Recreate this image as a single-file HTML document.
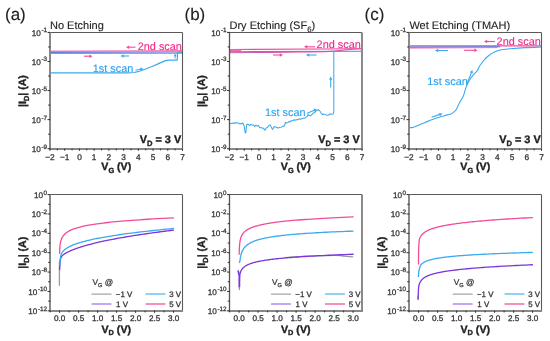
<!DOCTYPE html>
<html><head><meta charset="utf-8"><style>
html,body{margin:0;padding:0;background:#fff;width:550px;height:341px;overflow:hidden}
svg{display:block;font-family:"Liberation Sans", sans-serif;will-change:transform;text-rendering:geometricPrecision;filter:blur(0.3px)}
</style></head><body>
<svg xmlns="http://www.w3.org/2000/svg" width="550" height="341" viewBox="0 0 550 341">
<defs><clipPath id="ct0"><rect x="50" y="32.4" width="132.5" height="116.3"/></clipPath><clipPath id="cb0"><rect x="50" y="194.6" width="132.5" height="116.2"/></clipPath><clipPath id="ct1"><rect x="229.5" y="32.4" width="132.5" height="116.3"/></clipPath><clipPath id="cb1"><rect x="229.5" y="194.6" width="132.5" height="116.2"/></clipPath><clipPath id="ct2"><rect x="409" y="32.4" width="132.5" height="116.3"/></clipPath><clipPath id="cb2"><rect x="409" y="194.6" width="132.5" height="116.2"/></clipPath></defs>
<rect width="550" height="341" fill="#fff"/>
<text x="5" y="20.3" font-size="17" fill="#222" text-anchor="start" font-weight="normal" stroke="#222" stroke-width="0.12" >(a)</text>
<text x="184.5" y="20.3" font-size="17" fill="#222" text-anchor="start" font-weight="normal" stroke="#222" stroke-width="0.12" >(b)</text>
<text x="364.5" y="20.3" font-size="17" fill="#222" text-anchor="start" font-weight="normal" stroke="#222" stroke-width="0.12" >(c)</text>
<text x="47" y="35.5" font-size="8.2" fill="#333" text-anchor="end" font-weight="normal" stroke="#333" stroke-width="0.26" >10<tspan font-size="6.3" dx="0.6" dy="-3.1">-1</tspan></text>
<text x="47" y="64.57" font-size="8.2" fill="#333" text-anchor="end" font-weight="normal" stroke="#333" stroke-width="0.26" >10<tspan font-size="6.3" dx="0.6" dy="-3.1">-3</tspan></text>
<text x="47" y="93.65" font-size="8.2" fill="#333" text-anchor="end" font-weight="normal" stroke="#333" stroke-width="0.26" >10<tspan font-size="6.3" dx="0.6" dy="-3.1">-5</tspan></text>
<text x="47" y="122.72" font-size="8.2" fill="#333" text-anchor="end" font-weight="normal" stroke="#333" stroke-width="0.26" >10<tspan font-size="6.3" dx="0.6" dy="-3.1">-7</tspan></text>
<text x="47" y="151.8" font-size="8.2" fill="#333" text-anchor="end" font-weight="normal" stroke="#333" stroke-width="0.26" >10<tspan font-size="6.3" dx="0.6" dy="-3.1">-9</tspan></text>
<text x="50" y="160.2" font-size="8.3" fill="#333" text-anchor="middle" font-weight="normal" stroke="#333" stroke-width="0.28" >&#8722;2</text>
<text x="64.72" y="160.2" font-size="8.3" fill="#333" text-anchor="middle" font-weight="normal" stroke="#333" stroke-width="0.28" >&#8722;1</text>
<text x="79.44" y="160.2" font-size="8.3" fill="#333" text-anchor="middle" font-weight="normal" stroke="#333" stroke-width="0.28" >0</text>
<text x="94.17" y="160.2" font-size="8.3" fill="#333" text-anchor="middle" font-weight="normal" stroke="#333" stroke-width="0.28" >1</text>
<text x="108.89" y="160.2" font-size="8.3" fill="#333" text-anchor="middle" font-weight="normal" stroke="#333" stroke-width="0.28" >2</text>
<text x="123.61" y="160.2" font-size="8.3" fill="#333" text-anchor="middle" font-weight="normal" stroke="#333" stroke-width="0.28" >3</text>
<text x="138.33" y="160.2" font-size="8.3" fill="#333" text-anchor="middle" font-weight="normal" stroke="#333" stroke-width="0.28" >4</text>
<text x="153.06" y="160.2" font-size="8.3" fill="#333" text-anchor="middle" font-weight="normal" stroke="#333" stroke-width="0.28" >5</text>
<text x="167.78" y="160.2" font-size="8.3" fill="#333" text-anchor="middle" font-weight="normal" stroke="#333" stroke-width="0.28" >6</text>
<text x="182.5" y="160.2" font-size="8.3" fill="#333" text-anchor="middle" font-weight="normal" stroke="#333" stroke-width="0.28" >7</text>
<text x="116.25" y="170.2" font-size="10.6" fill="#222" text-anchor="middle" font-weight="bold" stroke="#222" stroke-width="0.35" >V<tspan font-size="7.4" dy="2.8">G</tspan><tspan dy="-2.8"> (V)</tspan></text>
<text transform="translate(25.8,91.05) rotate(-90)" font-size="10.6" fill="#222" text-anchor="middle" font-weight="bold" stroke="#222" stroke-width="0.35">|I<tspan font-size="7.4" dy="2.8">D</tspan><tspan dy="-2.8">| (A)</tspan></text>
<text x="181.2" y="143.3" font-size="10.9" fill="#222" text-anchor="end" font-weight="bold" stroke="#222" stroke-width="0.35" >V<tspan font-size="7.6" dy="2.9">D</tspan><tspan dy="-2.9"> = 3 V</tspan></text>
<text x="226.5" y="35.5" font-size="8.2" fill="#333" text-anchor="end" font-weight="normal" stroke="#333" stroke-width="0.26" >10<tspan font-size="6.3" dx="0.6" dy="-3.1">-1</tspan></text>
<text x="226.5" y="64.57" font-size="8.2" fill="#333" text-anchor="end" font-weight="normal" stroke="#333" stroke-width="0.26" >10<tspan font-size="6.3" dx="0.6" dy="-3.1">-3</tspan></text>
<text x="226.5" y="93.65" font-size="8.2" fill="#333" text-anchor="end" font-weight="normal" stroke="#333" stroke-width="0.26" >10<tspan font-size="6.3" dx="0.6" dy="-3.1">-5</tspan></text>
<text x="226.5" y="122.72" font-size="8.2" fill="#333" text-anchor="end" font-weight="normal" stroke="#333" stroke-width="0.26" >10<tspan font-size="6.3" dx="0.6" dy="-3.1">-7</tspan></text>
<text x="226.5" y="151.8" font-size="8.2" fill="#333" text-anchor="end" font-weight="normal" stroke="#333" stroke-width="0.26" >10<tspan font-size="6.3" dx="0.6" dy="-3.1">-9</tspan></text>
<text x="229.5" y="160.2" font-size="8.3" fill="#333" text-anchor="middle" font-weight="normal" stroke="#333" stroke-width="0.28" >&#8722;2</text>
<text x="244.22" y="160.2" font-size="8.3" fill="#333" text-anchor="middle" font-weight="normal" stroke="#333" stroke-width="0.28" >&#8722;1</text>
<text x="258.94" y="160.2" font-size="8.3" fill="#333" text-anchor="middle" font-weight="normal" stroke="#333" stroke-width="0.28" >0</text>
<text x="273.67" y="160.2" font-size="8.3" fill="#333" text-anchor="middle" font-weight="normal" stroke="#333" stroke-width="0.28" >1</text>
<text x="288.39" y="160.2" font-size="8.3" fill="#333" text-anchor="middle" font-weight="normal" stroke="#333" stroke-width="0.28" >2</text>
<text x="303.11" y="160.2" font-size="8.3" fill="#333" text-anchor="middle" font-weight="normal" stroke="#333" stroke-width="0.28" >3</text>
<text x="317.83" y="160.2" font-size="8.3" fill="#333" text-anchor="middle" font-weight="normal" stroke="#333" stroke-width="0.28" >4</text>
<text x="332.56" y="160.2" font-size="8.3" fill="#333" text-anchor="middle" font-weight="normal" stroke="#333" stroke-width="0.28" >5</text>
<text x="347.28" y="160.2" font-size="8.3" fill="#333" text-anchor="middle" font-weight="normal" stroke="#333" stroke-width="0.28" >6</text>
<text x="362" y="160.2" font-size="8.3" fill="#333" text-anchor="middle" font-weight="normal" stroke="#333" stroke-width="0.28" >7</text>
<text x="295.75" y="170.2" font-size="10.6" fill="#222" text-anchor="middle" font-weight="bold" stroke="#222" stroke-width="0.35" >V<tspan font-size="7.4" dy="2.8">G</tspan><tspan dy="-2.8"> (V)</tspan></text>
<text transform="translate(205.3,91.05) rotate(-90)" font-size="10.6" fill="#222" text-anchor="middle" font-weight="bold" stroke="#222" stroke-width="0.35">|I<tspan font-size="7.4" dy="2.8">D</tspan><tspan dy="-2.8">| (A)</tspan></text>
<text x="359.7" y="143.3" font-size="10.9" fill="#222" text-anchor="end" font-weight="bold" stroke="#222" stroke-width="0.35" >V<tspan font-size="7.6" dy="2.9">D</tspan><tspan dy="-2.9"> = 3 V</tspan></text>
<text x="406" y="35.5" font-size="8.2" fill="#333" text-anchor="end" font-weight="normal" stroke="#333" stroke-width="0.26" >10<tspan font-size="6.3" dx="0.6" dy="-3.1">-1</tspan></text>
<text x="406" y="64.57" font-size="8.2" fill="#333" text-anchor="end" font-weight="normal" stroke="#333" stroke-width="0.26" >10<tspan font-size="6.3" dx="0.6" dy="-3.1">-3</tspan></text>
<text x="406" y="93.65" font-size="8.2" fill="#333" text-anchor="end" font-weight="normal" stroke="#333" stroke-width="0.26" >10<tspan font-size="6.3" dx="0.6" dy="-3.1">-5</tspan></text>
<text x="406" y="122.72" font-size="8.2" fill="#333" text-anchor="end" font-weight="normal" stroke="#333" stroke-width="0.26" >10<tspan font-size="6.3" dx="0.6" dy="-3.1">-7</tspan></text>
<text x="406" y="151.8" font-size="8.2" fill="#333" text-anchor="end" font-weight="normal" stroke="#333" stroke-width="0.26" >10<tspan font-size="6.3" dx="0.6" dy="-3.1">-9</tspan></text>
<text x="409" y="160.2" font-size="8.3" fill="#333" text-anchor="middle" font-weight="normal" stroke="#333" stroke-width="0.28" >&#8722;2</text>
<text x="423.72" y="160.2" font-size="8.3" fill="#333" text-anchor="middle" font-weight="normal" stroke="#333" stroke-width="0.28" >&#8722;1</text>
<text x="438.44" y="160.2" font-size="8.3" fill="#333" text-anchor="middle" font-weight="normal" stroke="#333" stroke-width="0.28" >0</text>
<text x="453.17" y="160.2" font-size="8.3" fill="#333" text-anchor="middle" font-weight="normal" stroke="#333" stroke-width="0.28" >1</text>
<text x="467.89" y="160.2" font-size="8.3" fill="#333" text-anchor="middle" font-weight="normal" stroke="#333" stroke-width="0.28" >2</text>
<text x="482.61" y="160.2" font-size="8.3" fill="#333" text-anchor="middle" font-weight="normal" stroke="#333" stroke-width="0.28" >3</text>
<text x="497.33" y="160.2" font-size="8.3" fill="#333" text-anchor="middle" font-weight="normal" stroke="#333" stroke-width="0.28" >4</text>
<text x="512.06" y="160.2" font-size="8.3" fill="#333" text-anchor="middle" font-weight="normal" stroke="#333" stroke-width="0.28" >5</text>
<text x="526.78" y="160.2" font-size="8.3" fill="#333" text-anchor="middle" font-weight="normal" stroke="#333" stroke-width="0.28" >6</text>
<text x="541.5" y="160.2" font-size="8.3" fill="#333" text-anchor="middle" font-weight="normal" stroke="#333" stroke-width="0.28" >7</text>
<text x="475.25" y="170.2" font-size="10.6" fill="#222" text-anchor="middle" font-weight="bold" stroke="#222" stroke-width="0.35" >V<tspan font-size="7.4" dy="2.8">G</tspan><tspan dy="-2.8"> (V)</tspan></text>
<text x="540.7" y="143.3" font-size="10.9" fill="#222" text-anchor="end" font-weight="bold" stroke="#222" stroke-width="0.35" >V<tspan font-size="7.6" dy="2.9">D</tspan><tspan dy="-2.9"> = 3 V</tspan></text>
<g clip-path="url(#ct0)">
<path d="M50,51.2 L182.5,50.8" fill="none" stroke="#f24b9c" stroke-width="1.0" stroke-linejoin="round" stroke-linecap="round" />
<path d="M50,53.5 L182.5,53.3" fill="none" stroke="#f36aaa" stroke-width="1.0" stroke-linejoin="round" stroke-linecap="round" />
<path d="M50,52.4 L182.5,52" fill="none" stroke="#5a7ce0" stroke-width="1.1" stroke-linejoin="round" stroke-linecap="round" />
<path d="M50,72.8 L128,72.8 L134,72.5 L138,71.7 L145,69.3 L152,66.5 L158,63.9 L163,61.6 L166.2,60.4 L169.2,60.1 L177.3,60.1 L177.5,52.6 L178.5,52.2 L182.5,52.2" fill="none" stroke="#3aaaf0" stroke-width="1.2" stroke-linejoin="round" stroke-linecap="round" />
</g>
<text x="137.7" y="49.7" font-size="10.9" fill="#ee2a8a" text-anchor="start" font-weight="normal" stroke="#ee2a8a" stroke-width="0.12" >2nd scan</text>
<line x1="135.5" y1="47.2" x2="128.7" y2="47.2" stroke="#f24b9c" stroke-width="1.1"/>
<path d="M126,47.2 L129.2,45.5 L129.2,48.9 Z" fill="#f24b9c"/>
<line x1="84" y1="56.2" x2="89.8" y2="56.2" stroke="#f24b9c" stroke-width="1.1"/>
<path d="M92.5,56.2 L89.3,57.9 L89.3,54.5 Z" fill="#f24b9c"/>
<line x1="129" y1="56" x2="123.2" y2="56" stroke="#3aaaf0" stroke-width="1.1"/>
<path d="M120.5,56 L123.7,54.3 L123.7,57.7 Z" fill="#3aaaf0"/>
<text x="92.8" y="71.7" font-size="10.9" fill="#2aa2f0" text-anchor="start" font-weight="normal" stroke="#2aa2f0" stroke-width="0.12" >1st scan</text>
<line x1="135.5" y1="70.2" x2="140.85" y2="69.2" stroke="#3aaaf0" stroke-width="1.1"/>
<path d="M143.5,68.7 L140.67,70.96 L140.04,67.62 Z" fill="#3aaaf0"/>
<line x1="175.1" y1="58.6" x2="175.1" y2="55.7" stroke="#3aaaf0" stroke-width="1.0"/>
<path d="M175.1,53.6 L176.5,56.2 L173.7,56.2 Z" fill="#3aaaf0"/>
<g clip-path="url(#ct1)">
<path d="M229.5,49.5 L362,48.8" fill="none" stroke="#f24b9c" stroke-width="1.1" stroke-linejoin="round" stroke-linecap="round" />
<path d="M229.5,52.7 C241.25,52.58 283.25,52.22 300,52 C316.75,51.78 323,51.68 330,51.4 C337,51.12 338.33,50.68 342,50.3 C345.67,49.92 348.67,49.37 352,49.1 C355.33,48.83 360.33,48.77 362,48.7" fill="none" stroke="#f24b9c" stroke-width="1.1" stroke-linejoin="round" stroke-linecap="round" />
<path d="M230,50.5 L240,50.5" fill="none" stroke="#f46aac" stroke-width="2.6" stroke-linejoin="round" stroke-linecap="round" />
<path d="M229.5,51.7 L362,51.2" fill="none" stroke="#5a8ae6" stroke-width="1.1" stroke-linejoin="round" stroke-linecap="round" />
<path d="M229.5,123.6 L230.7,123.57 L231.9,123.27 L233.1,122.98 L234.05,123.58 L235,122.56 L235.95,123.1 L236.9,122.7 L238.5,122.94 L239.6,123.91 L240.7,123.51 L241.65,123.75 L242.6,122.85 L244,125.39 L244.5,127.89 L245.2,132.99 L245.8,132.74 L246.5,126.08 L246.8,124.39 L248.1,124.17 L249.6,125.62 L251,124.35 L252.2,124.91 L253.5,124.92 L254.7,126.54 L256,125.08 L257.3,126.17 L258.5,125.43 L259.8,127.71 L261,127.47 L262.4,128.12 L263.5,128.32 L264.9,130.11 L266.2,128.01 L267.5,127.47 L268.8,125.64 L270,124.84 L271.4,127.16 L272.4,129.47 L273.2,128.49 L274.2,126.62 L275.1,126.83 L276.05,127.18 L277,127.5 L277.95,128.04 L278.9,127.7 L280.5,127.32 L281.6,126.96 L282.7,126.04 L283.6,126.26 L284.5,125.74 L285.5,122.28 L286.5,123.02 L287.6,122.83 L289.1,121.48 L290.05,121.89 L291,120.88 L292.5,120.78 L294.2,119.71 L295.1,120.3 L296,120.1 L297,119.51 L298,119.66 L299,118.77 L300,119.29 L301,118.89 L302,118.62 L303,118.1 L304,118.34 L305,118.17 L306,117.01 L307,116.85 L308,114.34 L309,115.5 L310,115.62 L311,115.44 L312,114.48 L313,113.18 L314,112.83 L315,112.5 L316,110.78 L317.25,110.69 L318.5,109.5 L320,111.23 L321,112.84 L322.5,114.6 L324,113.94 L325.5,114.62 L327,115.34 L328.5,115.16 L330,113.87 L331.5,114.22 L332.4,114.12 L333.3,113.8 L333.8,112 L333.8,51.4" fill="none" stroke="#3aaaf0" stroke-width="1.05" stroke-linejoin="round" stroke-linecap="round" />
</g>
<text x="316.6" y="47.7" font-size="10.9" fill="#ee2a8a" text-anchor="start" font-weight="normal" stroke="#ee2a8a" stroke-width="0.12" >2nd scan</text>
<line x1="315" y1="46.8" x2="306.7" y2="46.8" stroke="#f24b9c" stroke-width="1.1"/>
<path d="M304,46.8 L307.2,45.1 L307.2,48.5 Z" fill="#f24b9c"/>
<line x1="273" y1="55" x2="280.3" y2="55" stroke="#f24b9c" stroke-width="1.1"/>
<path d="M283,55 L279.8,56.7 L279.8,53.3 Z" fill="#f24b9c"/>
<line x1="316.5" y1="55" x2="308.7" y2="55" stroke="#3aaaf0" stroke-width="1.1"/>
<path d="M306,55 L309.2,53.3 L309.2,56.7 Z" fill="#3aaaf0"/>
<text x="265" y="115.7" font-size="10.9" fill="#2aa2f0" text-anchor="start" font-weight="normal" stroke="#2aa2f0" stroke-width="0.12" >1st scan</text>
<line x1="307" y1="113.2" x2="314.49" y2="110.2" stroke="#3aaaf0" stroke-width="1.1"/>
<path d="M317,109.2 L314.66,111.97 L313.4,108.81 Z" fill="#3aaaf0"/>
<line x1="330.7" y1="87.5" x2="330.7" y2="79.2" stroke="#3aaaf0" stroke-width="1.1"/>
<path d="M330.7,76.5 L332.4,79.7 L329,79.7 Z" fill="#3aaaf0"/>
<g clip-path="url(#ct2)">
<path d="M409,45.9 L541.5,45.8" fill="none" stroke="#f24b9c" stroke-width="1.3" stroke-linejoin="round" stroke-linecap="round" />
<path d="M409,48.2 L497,47.6" fill="none" stroke="#f477b4" stroke-width="0.9" stroke-linejoin="round" stroke-linecap="round" />
<path d="M409,47.1 L500,46.7" fill="none" stroke="#5078e0" stroke-width="1.1" stroke-linejoin="round" stroke-linecap="round" />
<path d="M409,127.2 C409.67,127.25 411.17,127.95 413,127.5 C414.83,127.05 418,125.33 420,124.5 C422,123.67 423.17,123.25 425,122.5 C426.83,121.75 429.33,120.67 431,120 C432.67,119.33 433.5,119 435,118.5 C436.5,118 438.33,117.5 440,117 C441.67,116.5 443.5,115.92 445,115.5 C446.5,115.08 448,114.77 449,114.5 C450,114.23 450.17,114.35 451,113.9 C451.83,113.45 453.13,112.53 454,111.8 C454.87,111.07 455.25,111.05 456.2,109.5 C457.15,107.95 458.53,104.7 459.7,102.5 C460.87,100.3 462.33,98.22 463.2,96.3 C464.07,94.38 464.32,92.75 464.9,91 C465.48,89.25 465.97,87.55 466.7,85.8 C467.43,84.05 468.13,82.42 469.3,80.5 C470.47,78.58 472.38,75.92 473.7,74.3 C475.02,72.68 476.17,72.27 477.2,70.8 C478.23,69.33 479.02,66.97 479.9,65.5 C480.78,64.03 481.48,63.25 482.5,62 C483.52,60.75 484.83,59.17 486,58 C487.17,56.83 488.17,55.97 489.5,55 C490.83,54.03 492.25,53.03 494,52.2 C495.75,51.37 497.33,50.57 500,50 C502.67,49.43 505.83,49.2 510,48.8 C514.17,48.4 519.75,47.9 525,47.6 C530.25,47.3 538.75,47.1 541.5,47" fill="none" stroke="#3aaaf0" stroke-width="1.1" stroke-linejoin="round" stroke-linecap="round" />
</g>
<text x="496.6" y="44.5" font-size="10.9" fill="#ee2a8a" text-anchor="start" font-weight="normal" stroke="#ee2a8a" stroke-width="0.12" >2nd scan</text>
<line x1="495" y1="41.5" x2="486.7" y2="41.5" stroke="#f24b9c" stroke-width="1.1"/>
<path d="M484,41.5 L487.2,39.8 L487.2,43.2 Z" fill="#f24b9c"/>
<line x1="464" y1="50.3" x2="474.8" y2="50.3" stroke="#f24b9c" stroke-width="1.1"/>
<path d="M477.5,50.3 L474.3,52 L474.3,48.6 Z" fill="#f24b9c"/>
<line x1="448" y1="50.5" x2="437.7" y2="50.5" stroke="#3aaaf0" stroke-width="1.1"/>
<path d="M435,50.5 L438.2,48.8 L438.2,52.2 Z" fill="#3aaaf0"/>
<text x="427.2" y="85" font-size="10.9" fill="#2aa2f0" text-anchor="start" font-weight="normal" stroke="#2aa2f0" stroke-width="0.12" >1st scan</text>
<line x1="466.8" y1="84" x2="471.48" y2="72.5" stroke="#3aaaf0" stroke-width="1.1"/>
<path d="M472.5,70 L472.87,73.6 L469.72,72.32 Z" fill="#3aaaf0"/>
<line x1="431.5" y1="117.2" x2="439.94" y2="114.36" stroke="#3aaaf0" stroke-width="1.1"/>
<path d="M442.5,113.5 L440.01,116.13 L438.93,112.91 Z" fill="#3aaaf0"/>
<text x="47.1" y="197.7" font-size="8.2" fill="#333" text-anchor="end" font-weight="normal" stroke="#333" stroke-width="0.26" >10<tspan font-size="6.3" dx="0.6" dy="-3.1">0</tspan></text>
<text x="47.1" y="217.07" font-size="8.2" fill="#333" text-anchor="end" font-weight="normal" stroke="#333" stroke-width="0.26" >10<tspan font-size="6.3" dx="0.6" dy="-3.1">-2</tspan></text>
<text x="47.1" y="236.43" font-size="8.2" fill="#333" text-anchor="end" font-weight="normal" stroke="#333" stroke-width="0.26" >10<tspan font-size="6.3" dx="0.6" dy="-3.1">-4</tspan></text>
<text x="47.1" y="255.8" font-size="8.2" fill="#333" text-anchor="end" font-weight="normal" stroke="#333" stroke-width="0.26" >10<tspan font-size="6.3" dx="0.6" dy="-3.1">-6</tspan></text>
<text x="47.1" y="275.17" font-size="8.2" fill="#333" text-anchor="end" font-weight="normal" stroke="#333" stroke-width="0.26" >10<tspan font-size="6.3" dx="0.6" dy="-3.1">-8</tspan></text>
<text x="47.1" y="294.53" font-size="8.2" fill="#333" text-anchor="end" font-weight="normal" stroke="#333" stroke-width="0.26" >10<tspan font-size="6.3" dx="0.6" dy="-3.1">-10</tspan></text>
<text x="47.1" y="313.9" font-size="8.2" fill="#333" text-anchor="end" font-weight="normal" stroke="#333" stroke-width="0.26" >10<tspan font-size="6.3" dx="0.6" dy="-3.1">-12</tspan></text>
<text x="59.6" y="320.9" font-size="8.2" fill="#333" text-anchor="middle" font-weight="normal" stroke="#333" stroke-width="0.28" >0.0</text>
<text x="78.6" y="320.9" font-size="8.2" fill="#333" text-anchor="middle" font-weight="normal" stroke="#333" stroke-width="0.28" >0.5</text>
<text x="97.6" y="320.9" font-size="8.2" fill="#333" text-anchor="middle" font-weight="normal" stroke="#333" stroke-width="0.28" >1.0</text>
<text x="116.6" y="320.9" font-size="8.2" fill="#333" text-anchor="middle" font-weight="normal" stroke="#333" stroke-width="0.28" >1.5</text>
<text x="135.6" y="320.9" font-size="8.2" fill="#333" text-anchor="middle" font-weight="normal" stroke="#333" stroke-width="0.28" >2.0</text>
<text x="154.6" y="320.9" font-size="8.2" fill="#333" text-anchor="middle" font-weight="normal" stroke="#333" stroke-width="0.28" >2.5</text>
<text x="173.6" y="320.9" font-size="8.2" fill="#333" text-anchor="middle" font-weight="normal" stroke="#333" stroke-width="0.28" >3.0</text>
<text x="116.25" y="332.6" font-size="10.6" fill="#222" text-anchor="middle" font-weight="bold" stroke="#222" stroke-width="0.35" >V<tspan font-size="7.4" dy="2.8">D</tspan><tspan dy="-2.8"> (V)</tspan></text>
<text transform="translate(25.8,252.7) rotate(-90)" font-size="10.6" fill="#222" text-anchor="middle" font-weight="bold" stroke="#222" stroke-width="0.35">|I<tspan font-size="7.4" dy="2.8">D</tspan><tspan dy="-2.8">| (A)</tspan></text>
<text x="92.5" y="285" font-size="8.3" fill="#333" text-anchor="start" font-weight="normal" stroke="#333" stroke-width="0.22" >V<tspan font-size="5.6" dy="2">G</tspan><tspan dy="-2"> @</tspan></text>
<path d="M92,294.2 L111,294.2" fill="none" stroke="#a6a6a6" stroke-width="1.3" stroke-linejoin="round" stroke-linecap="round" />
<path d="M92,304 L111,304" fill="none" stroke="#8a4cee" stroke-width="1.1" stroke-linejoin="round" stroke-linecap="round" />
<path d="M146,294 L165,294" fill="none" stroke="#6cc4f4" stroke-width="1.3" stroke-linejoin="round" stroke-linecap="round" />
<path d="M146,304 L165,304" fill="none" stroke="#f36aaa" stroke-width="1.3" stroke-linejoin="round" stroke-linecap="round" />
<text x="115.8" y="296.9" font-size="7.9" fill="#333" text-anchor="start" font-weight="normal" stroke="#333" stroke-width="0.26" >&#8722;1 V</text>
<text x="116.1" y="306.8" font-size="7.9" fill="#333" text-anchor="start" font-weight="normal" stroke="#333" stroke-width="0.26" >1 V</text>
<text x="169.2" y="296.7" font-size="7.9" fill="#333" text-anchor="start" font-weight="normal" stroke="#333" stroke-width="0.26" >3 V</text>
<text x="169.2" y="306.8" font-size="7.9" fill="#333" text-anchor="start" font-weight="normal" stroke="#333" stroke-width="0.26" >5 V</text>
<text x="226.6" y="197.7" font-size="8.2" fill="#333" text-anchor="end" font-weight="normal" stroke="#333" stroke-width="0.26" >10<tspan font-size="6.3" dx="0.6" dy="-3.1">0</tspan></text>
<text x="226.6" y="217.07" font-size="8.2" fill="#333" text-anchor="end" font-weight="normal" stroke="#333" stroke-width="0.26" >10<tspan font-size="6.3" dx="0.6" dy="-3.1">-2</tspan></text>
<text x="226.6" y="236.43" font-size="8.2" fill="#333" text-anchor="end" font-weight="normal" stroke="#333" stroke-width="0.26" >10<tspan font-size="6.3" dx="0.6" dy="-3.1">-4</tspan></text>
<text x="226.6" y="255.8" font-size="8.2" fill="#333" text-anchor="end" font-weight="normal" stroke="#333" stroke-width="0.26" >10<tspan font-size="6.3" dx="0.6" dy="-3.1">-6</tspan></text>
<text x="226.6" y="275.17" font-size="8.2" fill="#333" text-anchor="end" font-weight="normal" stroke="#333" stroke-width="0.26" >10<tspan font-size="6.3" dx="0.6" dy="-3.1">-8</tspan></text>
<text x="226.6" y="294.53" font-size="8.2" fill="#333" text-anchor="end" font-weight="normal" stroke="#333" stroke-width="0.26" >10<tspan font-size="6.3" dx="0.6" dy="-3.1">-10</tspan></text>
<text x="226.6" y="313.9" font-size="8.2" fill="#333" text-anchor="end" font-weight="normal" stroke="#333" stroke-width="0.26" >10<tspan font-size="6.3" dx="0.6" dy="-3.1">-12</tspan></text>
<text x="239.1" y="320.9" font-size="8.2" fill="#333" text-anchor="middle" font-weight="normal" stroke="#333" stroke-width="0.28" >0.0</text>
<text x="258.1" y="320.9" font-size="8.2" fill="#333" text-anchor="middle" font-weight="normal" stroke="#333" stroke-width="0.28" >0.5</text>
<text x="277.1" y="320.9" font-size="8.2" fill="#333" text-anchor="middle" font-weight="normal" stroke="#333" stroke-width="0.28" >1.0</text>
<text x="296.1" y="320.9" font-size="8.2" fill="#333" text-anchor="middle" font-weight="normal" stroke="#333" stroke-width="0.28" >1.5</text>
<text x="315.1" y="320.9" font-size="8.2" fill="#333" text-anchor="middle" font-weight="normal" stroke="#333" stroke-width="0.28" >2.0</text>
<text x="334.1" y="320.9" font-size="8.2" fill="#333" text-anchor="middle" font-weight="normal" stroke="#333" stroke-width="0.28" >2.5</text>
<text x="353.1" y="320.9" font-size="8.2" fill="#333" text-anchor="middle" font-weight="normal" stroke="#333" stroke-width="0.28" >3.0</text>
<text x="295.75" y="332.6" font-size="10.6" fill="#222" text-anchor="middle" font-weight="bold" stroke="#222" stroke-width="0.35" >V<tspan font-size="7.4" dy="2.8">D</tspan><tspan dy="-2.8"> (V)</tspan></text>
<text transform="translate(205.3,252.7) rotate(-90)" font-size="10.6" fill="#222" text-anchor="middle" font-weight="bold" stroke="#222" stroke-width="0.35">|I<tspan font-size="7.4" dy="2.8">D</tspan><tspan dy="-2.8">| (A)</tspan></text>
<text x="272" y="285" font-size="8.3" fill="#333" text-anchor="start" font-weight="normal" stroke="#333" stroke-width="0.22" >V<tspan font-size="5.6" dy="2">G</tspan><tspan dy="-2"> @</tspan></text>
<path d="M271.5,294.2 L290.5,294.2" fill="none" stroke="#a6a6a6" stroke-width="1.3" stroke-linejoin="round" stroke-linecap="round" />
<path d="M271.5,304 L290.5,304" fill="none" stroke="#8a4cee" stroke-width="1.1" stroke-linejoin="round" stroke-linecap="round" />
<path d="M325.5,294 L344.5,294" fill="none" stroke="#6cc4f4" stroke-width="1.3" stroke-linejoin="round" stroke-linecap="round" />
<path d="M325.5,304 L344.5,304" fill="none" stroke="#f36aaa" stroke-width="1.3" stroke-linejoin="round" stroke-linecap="round" />
<text x="295.3" y="296.9" font-size="7.9" fill="#333" text-anchor="start" font-weight="normal" stroke="#333" stroke-width="0.26" >&#8722;1 V</text>
<text x="295.6" y="306.8" font-size="7.9" fill="#333" text-anchor="start" font-weight="normal" stroke="#333" stroke-width="0.26" >1 V</text>
<text x="348.7" y="296.7" font-size="7.9" fill="#333" text-anchor="start" font-weight="normal" stroke="#333" stroke-width="0.26" >3 V</text>
<text x="348.7" y="306.8" font-size="7.9" fill="#333" text-anchor="start" font-weight="normal" stroke="#333" stroke-width="0.26" >5 V</text>
<text x="406.1" y="197.7" font-size="8.2" fill="#333" text-anchor="end" font-weight="normal" stroke="#333" stroke-width="0.26" >10<tspan font-size="6.3" dx="0.6" dy="-3.1">0</tspan></text>
<text x="406.1" y="217.07" font-size="8.2" fill="#333" text-anchor="end" font-weight="normal" stroke="#333" stroke-width="0.26" >10<tspan font-size="6.3" dx="0.6" dy="-3.1">-2</tspan></text>
<text x="406.1" y="236.43" font-size="8.2" fill="#333" text-anchor="end" font-weight="normal" stroke="#333" stroke-width="0.26" >10<tspan font-size="6.3" dx="0.6" dy="-3.1">-4</tspan></text>
<text x="406.1" y="255.8" font-size="8.2" fill="#333" text-anchor="end" font-weight="normal" stroke="#333" stroke-width="0.26" >10<tspan font-size="6.3" dx="0.6" dy="-3.1">-6</tspan></text>
<text x="406.1" y="275.17" font-size="8.2" fill="#333" text-anchor="end" font-weight="normal" stroke="#333" stroke-width="0.26" >10<tspan font-size="6.3" dx="0.6" dy="-3.1">-8</tspan></text>
<text x="406.1" y="294.53" font-size="8.2" fill="#333" text-anchor="end" font-weight="normal" stroke="#333" stroke-width="0.26" >10<tspan font-size="6.3" dx="0.6" dy="-3.1">-10</tspan></text>
<text x="406.1" y="313.9" font-size="8.2" fill="#333" text-anchor="end" font-weight="normal" stroke="#333" stroke-width="0.26" >10<tspan font-size="6.3" dx="0.6" dy="-3.1">-12</tspan></text>
<text x="418.6" y="320.9" font-size="8.2" fill="#333" text-anchor="middle" font-weight="normal" stroke="#333" stroke-width="0.28" >0.0</text>
<text x="437.6" y="320.9" font-size="8.2" fill="#333" text-anchor="middle" font-weight="normal" stroke="#333" stroke-width="0.28" >0.5</text>
<text x="456.6" y="320.9" font-size="8.2" fill="#333" text-anchor="middle" font-weight="normal" stroke="#333" stroke-width="0.28" >1.0</text>
<text x="475.6" y="320.9" font-size="8.2" fill="#333" text-anchor="middle" font-weight="normal" stroke="#333" stroke-width="0.28" >1.5</text>
<text x="494.6" y="320.9" font-size="8.2" fill="#333" text-anchor="middle" font-weight="normal" stroke="#333" stroke-width="0.28" >2.0</text>
<text x="513.6" y="320.9" font-size="8.2" fill="#333" text-anchor="middle" font-weight="normal" stroke="#333" stroke-width="0.28" >2.5</text>
<text x="532.6" y="320.9" font-size="8.2" fill="#333" text-anchor="middle" font-weight="normal" stroke="#333" stroke-width="0.28" >3.0</text>
<text x="475.25" y="332.6" font-size="10.6" fill="#222" text-anchor="middle" font-weight="bold" stroke="#222" stroke-width="0.35" >V<tspan font-size="7.4" dy="2.8">D</tspan><tspan dy="-2.8"> (V)</tspan></text>
<text transform="translate(384.8,252.7) rotate(-90)" font-size="10.6" fill="#222" text-anchor="middle" font-weight="bold" stroke="#222" stroke-width="0.35">|I<tspan font-size="7.4" dy="2.8">D</tspan><tspan dy="-2.8">| (A)</tspan></text>
<text x="453.7" y="285" font-size="8.3" fill="#333" text-anchor="start" font-weight="normal" stroke="#333" stroke-width="0.22" >V<tspan font-size="5.6" dy="2">G</tspan><tspan dy="-2"> @</tspan></text>
<path d="M453.2,294.2 L472.2,294.2" fill="none" stroke="#a6a6a6" stroke-width="1.3" stroke-linejoin="round" stroke-linecap="round" />
<path d="M453.2,304 L472.2,304" fill="none" stroke="#8a4cee" stroke-width="1.1" stroke-linejoin="round" stroke-linecap="round" />
<path d="M505,294 L524,294" fill="none" stroke="#6cc4f4" stroke-width="1.3" stroke-linejoin="round" stroke-linecap="round" />
<path d="M505,304 L524,304" fill="none" stroke="#f36aaa" stroke-width="1.3" stroke-linejoin="round" stroke-linecap="round" />
<text x="477" y="296.9" font-size="7.9" fill="#333" text-anchor="start" font-weight="normal" stroke="#333" stroke-width="0.26" >&#8722;1 V</text>
<text x="477.3" y="306.8" font-size="7.9" fill="#333" text-anchor="start" font-weight="normal" stroke="#333" stroke-width="0.26" >1 V</text>
<text x="528.2" y="296.7" font-size="7.9" fill="#333" text-anchor="start" font-weight="normal" stroke="#333" stroke-width="0.26" >3 V</text>
<text x="528.2" y="306.8" font-size="7.9" fill="#333" text-anchor="start" font-weight="normal" stroke="#333" stroke-width="0.26" >5 V</text>
<g clip-path="url(#cb0)">
<path d="M59.4,285.3 L59.4,262" fill="none" stroke="#9a9a9a" stroke-width="1.3" stroke-linejoin="round" stroke-linecap="round" />
<path d="M59.7,269.4 L59.85,265 L60.2,260.5 L61,257.6 L62,255.95 L62.07,255.88 L62.14,255.81 L62.21,255.74 L62.29,255.67 L62.37,255.6 L62.44,255.52 L62.53,255.45 L62.61,255.37 L62.7,255.3 L62.78,255.22 L62.88,255.15 L62.97,255.07 L63.06,254.99 L63.16,254.92 L63.26,254.84 L63.37,254.76 L63.48,254.67 L63.59,254.59 L63.7,254.51 L63.81,254.43 L63.93,254.34 L64.06,254.26 L64.18,254.17 L64.31,254.08 L64.45,253.99 L64.58,253.9 L64.72,253.81 L64.87,253.72 L65.02,253.62 L65.17,253.53 L65.32,253.43 L65.49,253.34 L65.65,253.24 L65.82,253.14 L66,253.04 L66.18,252.94 L66.36,252.83 L66.55,252.73 L66.75,252.62 L66.95,252.51 L67.15,252.4 L67.36,252.29 L67.58,252.18 L67.8,252.07 L68.03,251.95 L68.27,251.83 L68.51,251.71 L68.76,251.59 L69.02,251.47 L69.28,251.35 L69.55,251.22 L69.83,251.09 L70.12,250.97 L70.41,250.83 L70.71,250.7 L71.02,250.57 L71.34,250.43 L71.67,250.29 L72,250.15 L72.35,250.01 L72.71,249.87 L73.07,249.72 L73.45,249.57 L73.83,249.42 L74.23,249.27 L74.64,249.12 L75.06,248.96 L75.49,248.8 L75.93,248.64 L76.38,248.48 L76.85,248.31 L77.33,248.14 L77.82,247.98 L78.33,247.8 L78.85,247.63 L79.38,247.45 L79.93,247.27 L80.5,247.09 L81.08,246.91 L81.68,246.72 L82.29,246.53 L82.92,246.34 L83.57,246.15 L84.24,245.95 L84.92,245.75 L85.62,245.55 L86.35,245.35 L87.09,245.14 L87.85,244.93 L88.64,244.72 L89.44,244.51 L90.27,244.29 L91.12,244.07 L91.99,243.85 L92.89,243.62 L93.82,243.39 L94.77,243.16 L95.74,242.93 L96.74,242.69 L97.77,242.45 L98.83,242.2 L99.92,241.96 L101.04,241.71 L102.19,241.46 L103.37,241.2 L104.58,240.94 L105.83,240.68 L107.11,240.42 L108.43,240.15 L109.78,239.88 L111.17,239.6 L112.6,239.33 L114.07,239.05 L115.58,238.76 L117.13,238.47 L118.73,238.18 L120.36,237.89 L122.05,237.59 L123.78,237.29 L125.56,236.99 L127.38,236.68 L129.26,236.37 L131.19,236.05 L133.17,235.73 L135.21,235.41 L137.31,235.09 L139.46,234.76 L141.67,234.43 L143.94,234.09 L146.28,233.75 L148.68,233.41 L151.14,233.06 L153.68,232.71 L156.28,232.35 L158.96,231.99 L161.71,231.63 L164.54,231.26 L167.45,230.89 L170.43,230.52 L173.5,230.14" fill="none" stroke="#7a35dc" stroke-width="1.3" stroke-linejoin="round" stroke-linecap="round" />
<path d="M59.9,265.3 L60,261 L60.4,257.5 L61,254.92 L61.05,254.79 L61.1,254.66 L61.15,254.53 L61.2,254.4 L61.25,254.27 L61.31,254.14 L61.36,254.01 L61.42,253.88 L61.48,253.75 L61.54,253.63 L61.61,253.5 L61.67,253.37 L61.74,253.24 L61.81,253.11 L61.89,252.98 L61.96,252.86 L62.04,252.73 L62.12,252.6 L62.2,252.47 L62.28,252.34 L62.37,252.22 L62.46,252.09 L62.56,251.96 L62.65,251.83 L62.75,251.7 L62.85,251.57 L62.96,251.44 L63.07,251.31 L63.18,251.18 L63.29,251.05 L63.41,250.92 L63.54,250.78 L63.66,250.65 L63.79,250.52 L63.93,250.38 L64.07,250.25 L64.21,250.12 L64.36,249.98 L64.51,249.85 L64.67,249.71 L64.83,249.57 L65,249.43 L65.17,249.3 L65.35,249.16 L65.53,249.02 L65.72,248.88 L65.92,248.73 L66.12,248.59 L66.33,248.45 L66.54,248.3 L66.77,248.16 L66.99,248.01 L67.23,247.87 L67.47,247.72 L67.72,247.57 L67.98,247.42 L68.25,247.27 L68.52,247.12 L68.81,246.96 L69.1,246.81 L69.4,246.65 L69.71,246.5 L70.03,246.34 L70.36,246.18 L70.7,246.02 L71.05,245.86 L71.42,245.69 L71.79,245.53 L72.18,245.36 L72.58,245.2 L72.99,245.03 L73.41,244.86 L73.85,244.69 L74.3,244.51 L74.76,244.34 L75.24,244.16 L75.74,243.98 L76.25,243.8 L76.77,243.62 L77.32,243.44 L77.88,243.26 L78.45,243.07 L79.05,242.88 L79.66,242.69 L80.3,242.5 L80.95,242.31 L81.62,242.11 L82.32,241.92 L83.04,241.72 L83.78,241.52 L84.54,241.31 L85.33,241.11 L86.14,240.9 L86.97,240.69 L87.84,240.48 L88.73,240.27 L89.65,240.06 L90.59,239.84 L91.57,239.62 L92.58,239.4 L93.62,239.18 L94.69,238.95 L95.79,238.72 L96.93,238.49 L98.11,238.26 L99.32,238.03 L100.57,237.79 L101.86,237.55 L103.2,237.31 L104.57,237.06 L105.98,236.82 L107.44,236.57 L108.95,236.32 L110.5,236.06 L112.11,235.81 L113.76,235.55 L115.46,235.29 L117.22,235.02 L119.04,234.76 L120.91,234.49 L122.84,234.21 L124.83,233.94 L126.88,233.66 L129,233.38 L131.18,233.1 L133.43,232.81 L135.75,232.52 L138.15,232.23 L140.62,231.93 L143.17,231.64 L145.8,231.34 L148.51,231.03 L151.3,230.73 L154.19,230.42 L157.16,230.1 L160.23,229.79 L163.4,229.47 L166.66,229.15 L170.03,228.82 L173.5,228.49" fill="none" stroke="#3aaaf0" stroke-width="1.3" stroke-linejoin="round" stroke-linecap="round" />
<path d="M59.6,253.37 L59.61,253.13 L59.61,252.9 L59.62,252.67 L59.62,252.43 L59.63,252.2 L59.64,251.96 L59.64,251.73 L59.65,251.49 L59.66,251.26 L59.67,251.02 L59.67,250.79 L59.68,250.55 L59.69,250.31 L59.7,250.08 L59.71,249.84 L59.72,249.6 L59.74,249.36 L59.75,249.12 L59.76,248.89 L59.77,248.65 L59.79,248.41 L59.8,248.17 L59.82,247.93 L59.83,247.69 L59.85,247.45 L59.87,247.21 L59.89,246.97 L59.91,246.73 L59.93,246.49 L59.95,246.24 L59.98,246 L60,245.76 L60.03,245.52 L60.05,245.27 L60.08,245.03 L60.11,244.79 L60.14,244.54 L60.18,244.3 L60.21,244.06 L60.25,243.81 L60.29,243.57 L60.33,243.32 L60.37,243.08 L60.41,242.83 L60.46,242.58 L60.51,242.34 L60.56,242.09 L60.62,241.84 L60.67,241.6 L60.74,241.35 L60.8,241.1 L60.87,240.85 L60.94,240.61 L61.01,240.36 L61.09,240.11 L61.17,239.86 L61.26,239.61 L61.35,239.36 L61.44,239.11 L61.54,238.86 L61.65,238.61 L61.76,238.36 L61.87,238.11 L62,237.85 L62.13,237.6 L62.26,237.35 L62.4,237.1 L62.55,236.84 L62.71,236.59 L62.88,236.34 L63.05,236.08 L63.23,235.83 L63.43,235.58 L63.63,235.32 L63.84,235.07 L64.07,234.81 L64.3,234.56 L64.55,234.3 L64.81,234.04 L65.08,233.79 L65.37,233.53 L65.67,233.27 L65.99,233.02 L66.33,232.76 L66.68,232.5 L67.05,232.24 L67.44,231.99 L67.85,231.73 L68.28,231.47 L68.73,231.21 L69.2,230.95 L69.71,230.69 L70.23,230.43 L70.78,230.17 L71.37,229.91 L71.98,229.65 L72.62,229.39 L73.3,229.12 L74.01,228.86 L74.76,228.6 L75.54,228.34 L76.37,228.08 L77.24,227.81 L78.16,227.55 L79.12,227.29 L80.13,227.02 L81.19,226.76 L82.31,226.49 L83.49,226.23 L84.73,225.96 L86.03,225.7 L87.39,225.43 L88.83,225.17 L90.35,224.9 L91.94,224.63 L93.61,224.37 L95.37,224.1 L97.22,223.83 L99.16,223.56 L101.21,223.3 L103.36,223.03 L105.62,222.76 L108,222.49 L110.5,222.22 L113.13,221.95 L115.89,221.68 L118.8,221.41 L121.86,221.14 L125.07,220.87 L128.45,220.6 L132.01,220.33 L135.75,220.06 L139.68,219.78 L143.81,219.51 L148.16,219.24 L152.73,218.97 L157.54,218.69 L162.59,218.42 L167.91,218.15 L173.5,217.87" fill="none" stroke="#f24b9c" stroke-width="1.3" stroke-linejoin="round" stroke-linecap="round" />
</g>
<g clip-path="url(#cb1)">
<path d="M239.4,289.5 L239.4,280" fill="none" stroke="#9a9a9a" stroke-width="1.3" stroke-linejoin="round" stroke-linecap="round" />
<path d="M285,257.6 C287.5,257.43 295,256.9 300,256.6 C305,256.3 309.08,256.02 315,255.8 C320.92,255.58 330.83,255.27 335.5,255.3 C340.17,255.33 340.13,255.75 343,256 C345.87,256.25 351.08,256.67 352.7,256.8" fill="none" stroke="#9a9a9a" stroke-width="1.3" stroke-linejoin="round" stroke-linecap="round" />
<path d="M238.2,271 L239.4,276 L239.4,286.4" fill="none" stroke="#7a35dc" stroke-width="1.7" stroke-linejoin="round" stroke-linecap="round" />
<path d="M239.45,281 L239.55,276.8 L239.57,276.64 L239.59,276.48 L239.61,276.32 L239.63,276.16 L239.65,276 L239.67,275.84 L239.69,275.68 L239.72,275.51 L239.74,275.35 L239.77,275.19 L239.8,275.03 L239.82,274.87 L239.85,274.71 L239.88,274.55 L239.91,274.39 L239.95,274.23 L239.98,274.07 L240.02,273.9 L240.05,273.74 L240.09,273.58 L240.13,273.42 L240.17,273.26 L240.22,273.1 L240.26,272.94 L240.31,272.78 L240.36,272.62 L240.41,272.46 L240.46,272.29 L240.52,272.13 L240.57,271.97 L240.63,271.81 L240.69,271.65 L240.76,271.49 L240.83,271.33 L240.9,271.17 L240.97,271.01 L241.04,270.85 L241.12,270.68 L241.2,270.52 L241.29,270.36 L241.38,270.2 L241.47,270.04 L241.56,269.88 L241.66,269.72 L241.77,269.56 L241.87,269.4 L241.99,269.24 L242.1,269.07 L242.22,268.91 L242.35,268.75 L242.48,268.59 L242.62,268.43 L242.76,268.27 L242.9,268.11 L243.06,267.95 L243.22,267.79 L243.38,267.63 L243.56,267.46 L243.74,267.3 L243.92,267.14 L244.12,266.98 L244.32,266.82 L244.53,266.66 L244.75,266.5 L244.98,266.34 L245.21,266.18 L245.46,266.02 L245.72,265.85 L245.98,265.69 L246.26,265.53 L246.55,265.37 L246.85,265.21 L247.16,265.05 L247.49,264.89 L247.83,264.73 L248.18,264.57 L248.55,264.41 L248.93,264.24 L249.32,264.08 L249.74,263.92 L250.16,263.76 L250.61,263.6 L251.07,263.44 L251.56,263.28 L252.06,263.12 L252.58,262.96 L253.13,262.8 L253.69,262.63 L254.28,262.47 L254.89,262.31 L255.53,262.15 L256.19,261.99 L256.88,261.83 L257.6,261.67 L258.34,261.51 L259.12,261.35 L259.93,261.19 L260.77,261.02 L261.64,260.86 L262.55,260.7 L263.5,260.54 L264.48,260.38 L265.5,260.22 L266.57,260.06 L267.67,259.9 L268.83,259.74 L270.03,259.58 L271.27,259.41 L272.57,259.25 L273.92,259.09 L275.32,258.93 L276.78,258.77 L278.3,258.61 L279.89,258.45 L281.53,258.29 L283.24,258.13 L285.02,257.97 L286.87,257.81 L288.8,257.64 L290.8,257.48 L292.89,257.32 L295.06,257.16 L297.31,257 L299.66,256.84 L302.1,256.68 L304.64,256.52 L307.29,256.36 L310.04,256.2 L312.9,256.03 L315.87,255.87 L318.97,255.71 L322.19,255.55 L325.54,255.39 L329.03,255.23 L332.65,255.07 L336.43,254.91 L340.35,254.75 L344.43,254.59 L348.68,254.42 L353.1,254.26" fill="none" stroke="#7a35dc" stroke-width="1.3" stroke-linejoin="round" stroke-linecap="round" />
<path d="M239.5,262.5 L240,260.78 L240.03,260.5 L240.06,260.22 L240.1,259.94 L240.13,259.66 L240.17,259.39 L240.21,259.11 L240.25,258.84 L240.29,258.56 L240.33,258.29 L240.37,258.02 L240.42,257.74 L240.46,257.47 L240.51,257.2 L240.56,256.94 L240.61,256.67 L240.67,256.4 L240.72,256.14 L240.78,255.87 L240.84,255.61 L240.9,255.35 L240.96,255.09 L241.03,254.83 L241.09,254.57 L241.16,254.31 L241.24,254.05 L241.31,253.79 L241.39,253.54 L241.47,253.28 L241.55,253.03 L241.64,252.78 L241.73,252.53 L241.82,252.28 L241.92,252.03 L242.02,251.78 L242.12,251.53 L242.23,251.28 L242.34,251.04 L242.45,250.79 L242.57,250.55 L242.69,250.31 L242.82,250.07 L242.95,249.83 L243.08,249.59 L243.22,249.35 L243.37,249.11 L243.52,248.88 L243.67,248.64 L243.83,248.41 L244,248.17 L244.17,247.94 L244.35,247.71 L244.54,247.48 L244.73,247.25 L244.92,247.02 L245.13,246.79 L245.34,246.57 L245.56,246.34 L245.79,246.12 L246.02,245.89 L246.27,245.67 L246.52,245.45 L246.78,245.23 L247.05,245.01 L247.33,244.79 L247.62,244.57 L247.92,244.36 L248.23,244.14 L248.55,243.93 L248.88,243.71 L249.23,243.5 L249.59,243.29 L249.95,243.08 L250.34,242.87 L250.73,242.66 L251.14,242.45 L251.56,242.25 L252,242.04 L252.46,241.84 L252.93,241.63 L253.41,241.43 L253.92,241.23 L254.44,241.03 L254.98,240.83 L255.54,240.63 L256.12,240.43 L256.71,240.24 L257.33,240.04 L257.98,239.85 L258.64,239.65 L259.33,239.46 L260.04,239.27 L260.78,239.08 L261.54,238.89 L262.33,238.7 L263.15,238.51 L263.99,238.32 L264.87,238.14 L265.78,237.95 L266.71,237.77 L267.69,237.59 L268.69,237.41 L269.73,237.23 L270.81,237.05 L271.93,236.87 L273.08,236.69 L274.28,236.51 L275.51,236.34 L276.8,236.16 L278.12,235.99 L279.5,235.82 L280.92,235.65 L282.39,235.47 L283.91,235.3 L285.49,235.14 L287.12,234.97 L288.81,234.8 L290.56,234.64 L292.37,234.47 L294.24,234.31 L296.19,234.15 L298.19,233.98 L300.27,233.82 L302.43,233.66 L304.65,233.5 L306.96,233.35 L309.35,233.19 L311.82,233.03 L314.38,232.88 L317.03,232.73 L319.77,232.57 L322.61,232.42 L325.55,232.27 L328.59,232.12 L331.74,231.97 L335,231.82 L338.37,231.68 L341.87,231.53 L345.48,231.39 L349.22,231.24 L353.1,231.1" fill="none" stroke="#3aaaf0" stroke-width="1.3" stroke-linejoin="round" stroke-linecap="round" />
<path d="M239.2,254.21 L239.21,253.9 L239.21,253.6 L239.22,253.3 L239.22,253 L239.23,252.69 L239.24,252.39 L239.24,252.09 L239.25,251.79 L239.26,251.5 L239.27,251.2 L239.27,250.9 L239.28,250.6 L239.29,250.3 L239.3,250.01 L239.31,249.71 L239.32,249.42 L239.34,249.12 L239.35,248.83 L239.36,248.53 L239.37,248.24 L239.39,247.95 L239.4,247.66 L239.42,247.37 L239.43,247.07 L239.45,246.78 L239.47,246.49 L239.49,246.2 L239.51,245.92 L239.53,245.63 L239.55,245.34 L239.58,245.05 L239.6,244.77 L239.63,244.48 L239.65,244.19 L239.68,243.91 L239.71,243.62 L239.74,243.34 L239.78,243.06 L239.81,242.77 L239.85,242.49 L239.89,242.21 L239.93,241.93 L239.97,241.65 L240.01,241.37 L240.06,241.09 L240.11,240.81 L240.16,240.53 L240.22,240.25 L240.27,239.97 L240.34,239.7 L240.4,239.42 L240.47,239.15 L240.54,238.87 L240.61,238.59 L240.69,238.32 L240.77,238.05 L240.86,237.77 L240.95,237.5 L241.04,237.23 L241.14,236.96 L241.25,236.69 L241.36,236.42 L241.47,236.15 L241.6,235.88 L241.73,235.61 L241.86,235.34 L242,235.07 L242.15,234.8 L242.31,234.54 L242.48,234.27 L242.65,234 L242.83,233.74 L243.03,233.47 L243.23,233.21 L243.44,232.95 L243.67,232.68 L243.9,232.42 L244.15,232.16 L244.41,231.9 L244.68,231.64 L244.97,231.38 L245.27,231.12 L245.59,230.86 L245.93,230.6 L246.28,230.34 L246.65,230.08 L247.04,229.83 L247.45,229.57 L247.88,229.31 L248.33,229.06 L248.8,228.8 L249.31,228.55 L249.83,228.29 L250.38,228.04 L250.97,227.79 L251.58,227.53 L252.22,227.28 L252.9,227.03 L253.61,226.78 L254.36,226.53 L255.14,226.28 L255.97,226.03 L256.84,225.78 L257.76,225.54 L258.72,225.29 L259.73,225.04 L260.79,224.79 L261.91,224.55 L263.09,224.3 L264.33,224.06 L265.63,223.81 L266.99,223.57 L268.43,223.33 L269.95,223.08 L271.54,222.84 L273.21,222.6 L274.97,222.36 L276.82,222.12 L278.76,221.88 L280.81,221.64 L282.96,221.4 L285.22,221.16 L287.6,220.93 L290.1,220.69 L292.73,220.45 L295.49,220.21 L298.4,219.98 L301.46,219.74 L304.67,219.51 L308.05,219.28 L311.61,219.04 L315.35,218.81 L319.28,218.58 L323.41,218.34 L327.76,218.11 L332.33,217.88 L337.14,217.65 L342.19,217.42 L347.51,217.19 L353.1,216.96" fill="none" stroke="#f24b9c" stroke-width="1.3" stroke-linejoin="round" stroke-linecap="round" />
</g>
<g clip-path="url(#cb2)">
<path d="M418.1,299.5 L418.1,296" fill="none" stroke="#9a9a9a" stroke-width="1.3" stroke-linejoin="round" stroke-linecap="round" />
<path d="M418.1,298.9 L418.4,291 L418.7,286.6 L419.3,284 L420,282.52 L420.05,282.42 L420.1,282.31 L420.15,282.2 L420.21,282.09 L420.26,281.99 L420.32,281.88 L420.38,281.77 L420.44,281.66 L420.5,281.55 L420.57,281.44 L420.64,281.33 L420.71,281.22 L420.78,281.11 L420.85,281 L420.93,280.89 L421.01,280.77 L421.09,280.66 L421.17,280.55 L421.25,280.44 L421.34,280.33 L421.43,280.21 L421.53,280.1 L421.62,279.99 L421.72,279.87 L421.83,279.76 L421.93,279.64 L422.04,279.53 L422.16,279.41 L422.27,279.3 L422.39,279.18 L422.52,279.07 L422.64,278.95 L422.77,278.84 L422.91,278.72 L423.05,278.6 L423.19,278.49 L423.34,278.37 L423.49,278.25 L423.65,278.13 L423.81,278.01 L423.98,277.9 L424.15,277.78 L424.33,277.66 L424.52,277.54 L424.7,277.42 L424.9,277.3 L425.1,277.18 L425.31,277.06 L425.52,276.94 L425.74,276.82 L425.97,276.7 L426.2,276.57 L426.45,276.45 L426.69,276.33 L426.95,276.21 L427.22,276.08 L427.49,275.96 L427.77,275.84 L428.06,275.71 L428.36,275.59 L428.67,275.47 L428.98,275.34 L429.31,275.22 L429.65,275.09 L430,274.97 L430.36,274.84 L430.73,274.72 L431.11,274.59 L431.5,274.46 L431.91,274.34 L432.32,274.21 L432.75,274.08 L433.2,273.95 L433.66,273.83 L434.13,273.7 L434.62,273.57 L435.12,273.44 L435.63,273.31 L436.17,273.18 L436.72,273.05 L437.28,272.92 L437.87,272.79 L438.47,272.66 L439.09,272.53 L439.73,272.4 L440.39,272.27 L441.07,272.14 L441.77,272.01 L442.5,271.88 L443.24,271.74 L444.01,271.61 L444.8,271.48 L445.62,271.35 L446.46,271.21 L447.33,271.08 L448.23,270.94 L449.15,270.81 L450.1,270.68 L451.08,270.54 L452.09,270.41 L453.14,270.27 L454.21,270.13 L455.32,270 L456.46,269.86 L457.64,269.73 L458.85,269.59 L460.1,269.45 L461.39,269.32 L462.72,269.18 L464.1,269.04 L465.51,268.9 L466.97,268.76 L468.47,268.62 L470.02,268.49 L471.62,268.35 L473.26,268.21 L474.96,268.07 L476.71,267.93 L478.52,267.79 L480.38,267.65 L482.29,267.5 L484.27,267.36 L486.31,267.22 L488.41,267.08 L490.58,266.94 L492.81,266.79 L495.11,266.65 L497.49,266.51 L499.93,266.37 L502.45,266.22 L505.06,266.08 L507.74,265.93 L510.5,265.79 L513.35,265.65 L516.29,265.5 L519.32,265.36 L522.44,265.21 L525.66,265.06 L528.98,264.92 L532.4,264.77" fill="none" stroke="#7a35dc" stroke-width="1.3" stroke-linejoin="round" stroke-linecap="round" />
<path d="M418.4,276.4 L418.8,271.5 L419.6,268 L420.3,265.83 L420.36,265.74 L420.41,265.64 L420.47,265.55 L420.54,265.45 L420.6,265.35 L420.66,265.26 L420.73,265.16 L420.8,265.07 L420.87,264.97 L420.95,264.88 L421.02,264.78 L421.1,264.68 L421.18,264.59 L421.26,264.49 L421.35,264.4 L421.43,264.3 L421.52,264.2 L421.62,264.11 L421.71,264.01 L421.81,263.92 L421.91,263.82 L422.02,263.73 L422.12,263.63 L422.23,263.53 L422.35,263.44 L422.46,263.34 L422.58,263.25 L422.71,263.15 L422.84,263.05 L422.97,262.96 L423.1,262.86 L423.24,262.77 L423.39,262.67 L423.54,262.58 L423.69,262.48 L423.84,262.38 L424.01,262.29 L424.17,262.19 L424.34,262.1 L424.52,262 L424.7,261.9 L424.89,261.81 L425.08,261.71 L425.28,261.62 L425.48,261.52 L425.69,261.43 L425.91,261.33 L426.13,261.23 L426.36,261.14 L426.6,261.04 L426.84,260.95 L427.09,260.85 L427.35,260.75 L427.62,260.66 L427.89,260.56 L428.17,260.47 L428.46,260.37 L428.76,260.28 L429.07,260.18 L429.39,260.08 L429.71,259.99 L430.05,259.89 L430.39,259.8 L430.75,259.7 L431.12,259.6 L431.49,259.51 L431.88,259.41 L432.28,259.32 L432.69,259.22 L433.12,259.13 L433.55,259.03 L434,258.93 L434.47,258.84 L434.94,258.74 L435.43,258.65 L435.94,258.55 L436.46,258.45 L437,258.36 L437.55,258.26 L438.12,258.17 L438.7,258.07 L439.3,257.98 L439.93,257.88 L440.56,257.78 L441.22,257.69 L441.9,257.59 L442.6,257.5 L443.31,257.4 L444.05,257.3 L444.82,257.21 L445.6,257.11 L446.41,257.02 L447.24,256.92 L448.09,256.83 L448.97,256.73 L449.88,256.63 L450.82,256.54 L451.78,256.44 L452.77,256.35 L453.79,256.25 L454.84,256.15 L455.92,256.06 L457.03,255.96 L458.18,255.87 L459.36,255.77 L460.58,255.68 L461.83,255.58 L463.12,255.48 L464.44,255.39 L465.81,255.29 L467.22,255.2 L468.67,255.1 L470.16,255 L471.69,254.91 L473.28,254.81 L474.9,254.72 L476.58,254.62 L478.31,254.53 L480.09,254.43 L481.92,254.33 L483.8,254.24 L485.74,254.14 L487.74,254.05 L489.8,253.95 L491.92,253.85 L494.1,253.76 L496.35,253.66 L498.66,253.57 L501.04,253.47 L503.49,253.38 L506.02,253.28 L508.62,253.18 L511.3,253.09 L514.05,252.99 L516.89,252.9 L519.81,252.8 L522.82,252.7 L525.92,252.61 L529.11,252.51 L532.4,252.42" fill="none" stroke="#3aaaf0" stroke-width="1.3" stroke-linejoin="round" stroke-linecap="round" />
<path d="M418.5,264 L418.6,250 L418.9,244.5 L419.2,240.2 L419.23,240.08 L419.26,239.96 L419.29,239.84 L419.32,239.72 L419.36,239.6 L419.39,239.48 L419.43,239.36 L419.46,239.23 L419.5,239.11 L419.54,238.99 L419.58,238.86 L419.62,238.74 L419.67,238.61 L419.71,238.48 L419.76,238.36 L419.81,238.23 L419.86,238.1 L419.91,237.97 L419.97,237.84 L420.02,237.71 L420.08,237.58 L420.14,237.45 L420.21,237.32 L420.27,237.19 L420.34,237.05 L420.41,236.92 L420.48,236.79 L420.56,236.65 L420.63,236.52 L420.72,236.38 L420.8,236.24 L420.89,236.1 L420.97,235.97 L421.07,235.83 L421.16,235.69 L421.26,235.55 L421.37,235.41 L421.47,235.27 L421.58,235.12 L421.7,234.98 L421.82,234.84 L421.94,234.7 L422.07,234.55 L422.2,234.41 L422.34,234.26 L422.48,234.11 L422.63,233.97 L422.78,233.82 L422.94,233.67 L423.1,233.52 L423.27,233.37 L423.45,233.22 L423.63,233.07 L423.82,232.92 L424.01,232.77 L424.22,232.62 L424.43,232.47 L424.64,232.31 L424.87,232.16 L425.1,232 L425.34,231.85 L425.59,231.69 L425.85,231.53 L426.12,231.38 L426.4,231.22 L426.69,231.06 L426.99,230.9 L427.3,230.74 L427.62,230.58 L427.95,230.42 L428.29,230.26 L428.65,230.1 L429.02,229.93 L429.4,229.77 L429.8,229.61 L430.21,229.44 L430.64,229.27 L431.08,229.11 L431.54,228.94 L432.01,228.77 L432.5,228.61 L433.01,228.44 L433.54,228.27 L434.08,228.1 L434.65,227.93 L435.23,227.76 L435.84,227.59 L436.47,227.41 L437.12,227.24 L437.79,227.07 L438.49,226.89 L439.22,226.72 L439.97,226.54 L440.75,226.37 L441.55,226.19 L442.39,226.01 L443.25,225.84 L444.15,225.66 L445.08,225.48 L446.04,225.3 L447.04,225.12 L448.07,224.94 L449.14,224.76 L450.25,224.57 L451.4,224.39 L452.58,224.21 L453.82,224.02 L455.09,223.84 L456.42,223.65 L457.79,223.47 L459.21,223.28 L460.68,223.09 L462.21,222.91 L463.78,222.72 L465.42,222.53 L467.12,222.34 L468.87,222.15 L470.69,221.96 L472.58,221.77 L474.53,221.57 L476.56,221.38 L478.65,221.19 L480.83,220.99 L483.08,220.8 L485.41,220.6 L487.83,220.41 L490.33,220.21 L492.92,220.01 L495.61,219.82 L498.39,219.62 L501.28,219.42 L504.27,219.22 L507.36,219.02 L510.57,218.82 L513.9,218.62 L517.34,218.42 L520.91,218.21 L524.6,218.01 L528.43,217.81 L532.4,217.6" fill="none" stroke="#f24b9c" stroke-width="1.3" stroke-linejoin="round" stroke-linecap="round" />
</g>
<line x1="48" y1="32.5" x2="182.5" y2="32.5" stroke="#5a5a5a" stroke-width="1.1"/>
<line x1="182.5" y1="32.5" x2="182.5" y2="149" stroke="#5a5a5a" stroke-width="1.1"/>
<line x1="50" y1="32" x2="50" y2="150" stroke="#8a8a8a" stroke-width="2.0"/>
<line x1="49" y1="149" x2="183.05" y2="149" stroke="#888" stroke-width="2"/>
<line x1="48" y1="194.5" x2="182.5" y2="194.5" stroke="#5a5a5a" stroke-width="1.1"/>
<line x1="182.5" y1="194.5" x2="182.5" y2="311" stroke="#5a5a5a" stroke-width="1.1"/>
<line x1="50" y1="194" x2="50" y2="312" stroke="#8a8a8a" stroke-width="2.0"/>
<line x1="49" y1="311" x2="183.05" y2="311" stroke="#888" stroke-width="2"/>
<line x1="227.5" y1="32.5" x2="362" y2="32.5" stroke="#5a5a5a" stroke-width="1.1"/>
<line x1="362" y1="32.5" x2="362" y2="149" stroke="#8a8a8a" stroke-width="2.0"/>
<line x1="229.5" y1="32" x2="229.5" y2="150" stroke="#555" stroke-width="1.3"/>
<line x1="228.5" y1="149" x2="363" y2="149" stroke="#888" stroke-width="2"/>
<line x1="227.5" y1="194.5" x2="362" y2="194.5" stroke="#5a5a5a" stroke-width="1.1"/>
<line x1="362" y1="194.5" x2="362" y2="311" stroke="#8a8a8a" stroke-width="2.0"/>
<line x1="229.5" y1="194" x2="229.5" y2="312" stroke="#555" stroke-width="1.3"/>
<line x1="228.5" y1="311" x2="363" y2="311" stroke="#888" stroke-width="2"/>
<line x1="407" y1="32.5" x2="541.5" y2="32.5" stroke="#5a5a5a" stroke-width="1.1"/>
<line x1="541.5" y1="32.5" x2="541.5" y2="149" stroke="#5a5a5a" stroke-width="1.1"/>
<line x1="409" y1="32" x2="409" y2="150" stroke="#8a8a8a" stroke-width="2.0"/>
<line x1="408" y1="149" x2="542.05" y2="149" stroke="#888" stroke-width="2"/>
<line x1="407" y1="194.5" x2="541.5" y2="194.5" stroke="#5a5a5a" stroke-width="1.1"/>
<line x1="541.5" y1="194.5" x2="541.5" y2="311" stroke="#5a5a5a" stroke-width="1.1"/>
<line x1="409" y1="194" x2="409" y2="312" stroke="#8a8a8a" stroke-width="2.0"/>
<line x1="408" y1="311" x2="542.05" y2="311" stroke="#888" stroke-width="2"/>
<line x1="47.5" y1="148.7" x2="50.3" y2="148.7" stroke="#333" stroke-width="1"/>
<line x1="48.2" y1="134.16" x2="50.3" y2="134.16" stroke="#333" stroke-width="1"/>
<line x1="47.5" y1="119.62" x2="50.3" y2="119.62" stroke="#333" stroke-width="1"/>
<line x1="48.2" y1="105.09" x2="50.3" y2="105.09" stroke="#333" stroke-width="1"/>
<line x1="47.5" y1="90.55" x2="50.3" y2="90.55" stroke="#333" stroke-width="1"/>
<line x1="48.2" y1="76.01" x2="50.3" y2="76.01" stroke="#333" stroke-width="1"/>
<line x1="47.5" y1="61.47" x2="50.3" y2="61.47" stroke="#333" stroke-width="1"/>
<line x1="48.2" y1="46.94" x2="50.3" y2="46.94" stroke="#333" stroke-width="1"/>
<line x1="47.5" y1="32.4" x2="50.3" y2="32.4" stroke="#333" stroke-width="1"/>
<line x1="50" y1="148.6" x2="50" y2="150.8" stroke="#333" stroke-width="1"/>
<line x1="57.36" y1="148.6" x2="57.36" y2="150.38" stroke="#333" stroke-width="1"/>
<line x1="64.72" y1="148.6" x2="64.72" y2="150.8" stroke="#333" stroke-width="1"/>
<line x1="72.08" y1="148.6" x2="72.08" y2="150.38" stroke="#333" stroke-width="1"/>
<line x1="79.44" y1="148.6" x2="79.44" y2="150.8" stroke="#333" stroke-width="1"/>
<line x1="86.81" y1="148.6" x2="86.81" y2="150.38" stroke="#333" stroke-width="1"/>
<line x1="94.17" y1="148.6" x2="94.17" y2="150.8" stroke="#333" stroke-width="1"/>
<line x1="101.53" y1="148.6" x2="101.53" y2="150.38" stroke="#333" stroke-width="1"/>
<line x1="108.89" y1="148.6" x2="108.89" y2="150.8" stroke="#333" stroke-width="1"/>
<line x1="116.25" y1="148.6" x2="116.25" y2="150.38" stroke="#333" stroke-width="1"/>
<line x1="123.61" y1="148.6" x2="123.61" y2="150.8" stroke="#333" stroke-width="1"/>
<line x1="130.97" y1="148.6" x2="130.97" y2="150.38" stroke="#333" stroke-width="1"/>
<line x1="138.33" y1="148.6" x2="138.33" y2="150.8" stroke="#333" stroke-width="1"/>
<line x1="145.69" y1="148.6" x2="145.69" y2="150.38" stroke="#333" stroke-width="1"/>
<line x1="153.06" y1="148.6" x2="153.06" y2="150.8" stroke="#333" stroke-width="1"/>
<line x1="160.42" y1="148.6" x2="160.42" y2="150.38" stroke="#333" stroke-width="1"/>
<line x1="167.78" y1="148.6" x2="167.78" y2="150.8" stroke="#333" stroke-width="1"/>
<line x1="175.14" y1="148.6" x2="175.14" y2="150.38" stroke="#333" stroke-width="1"/>
<line x1="182.5" y1="148.6" x2="182.5" y2="150.8" stroke="#333" stroke-width="1"/>
<line x1="227" y1="148.7" x2="229.8" y2="148.7" stroke="#333" stroke-width="1"/>
<line x1="227.7" y1="134.16" x2="229.8" y2="134.16" stroke="#333" stroke-width="1"/>
<line x1="227" y1="119.62" x2="229.8" y2="119.62" stroke="#333" stroke-width="1"/>
<line x1="227.7" y1="105.09" x2="229.8" y2="105.09" stroke="#333" stroke-width="1"/>
<line x1="227" y1="90.55" x2="229.8" y2="90.55" stroke="#333" stroke-width="1"/>
<line x1="227.7" y1="76.01" x2="229.8" y2="76.01" stroke="#333" stroke-width="1"/>
<line x1="227" y1="61.47" x2="229.8" y2="61.47" stroke="#333" stroke-width="1"/>
<line x1="227.7" y1="46.94" x2="229.8" y2="46.94" stroke="#333" stroke-width="1"/>
<line x1="227" y1="32.4" x2="229.8" y2="32.4" stroke="#333" stroke-width="1"/>
<line x1="229.5" y1="148.6" x2="229.5" y2="150.8" stroke="#333" stroke-width="1"/>
<line x1="236.86" y1="148.6" x2="236.86" y2="150.38" stroke="#333" stroke-width="1"/>
<line x1="244.22" y1="148.6" x2="244.22" y2="150.8" stroke="#333" stroke-width="1"/>
<line x1="251.58" y1="148.6" x2="251.58" y2="150.38" stroke="#333" stroke-width="1"/>
<line x1="258.94" y1="148.6" x2="258.94" y2="150.8" stroke="#333" stroke-width="1"/>
<line x1="266.31" y1="148.6" x2="266.31" y2="150.38" stroke="#333" stroke-width="1"/>
<line x1="273.67" y1="148.6" x2="273.67" y2="150.8" stroke="#333" stroke-width="1"/>
<line x1="281.03" y1="148.6" x2="281.03" y2="150.38" stroke="#333" stroke-width="1"/>
<line x1="288.39" y1="148.6" x2="288.39" y2="150.8" stroke="#333" stroke-width="1"/>
<line x1="295.75" y1="148.6" x2="295.75" y2="150.38" stroke="#333" stroke-width="1"/>
<line x1="303.11" y1="148.6" x2="303.11" y2="150.8" stroke="#333" stroke-width="1"/>
<line x1="310.47" y1="148.6" x2="310.47" y2="150.38" stroke="#333" stroke-width="1"/>
<line x1="317.83" y1="148.6" x2="317.83" y2="150.8" stroke="#333" stroke-width="1"/>
<line x1="325.19" y1="148.6" x2="325.19" y2="150.38" stroke="#333" stroke-width="1"/>
<line x1="332.56" y1="148.6" x2="332.56" y2="150.8" stroke="#333" stroke-width="1"/>
<line x1="339.92" y1="148.6" x2="339.92" y2="150.38" stroke="#333" stroke-width="1"/>
<line x1="347.28" y1="148.6" x2="347.28" y2="150.8" stroke="#333" stroke-width="1"/>
<line x1="354.64" y1="148.6" x2="354.64" y2="150.38" stroke="#333" stroke-width="1"/>
<line x1="362" y1="148.6" x2="362" y2="150.8" stroke="#333" stroke-width="1"/>
<line x1="406.5" y1="148.7" x2="409.3" y2="148.7" stroke="#333" stroke-width="1"/>
<line x1="407.2" y1="134.16" x2="409.3" y2="134.16" stroke="#333" stroke-width="1"/>
<line x1="406.5" y1="119.62" x2="409.3" y2="119.62" stroke="#333" stroke-width="1"/>
<line x1="407.2" y1="105.09" x2="409.3" y2="105.09" stroke="#333" stroke-width="1"/>
<line x1="406.5" y1="90.55" x2="409.3" y2="90.55" stroke="#333" stroke-width="1"/>
<line x1="407.2" y1="76.01" x2="409.3" y2="76.01" stroke="#333" stroke-width="1"/>
<line x1="406.5" y1="61.47" x2="409.3" y2="61.47" stroke="#333" stroke-width="1"/>
<line x1="407.2" y1="46.94" x2="409.3" y2="46.94" stroke="#333" stroke-width="1"/>
<line x1="406.5" y1="32.4" x2="409.3" y2="32.4" stroke="#333" stroke-width="1"/>
<line x1="409" y1="148.6" x2="409" y2="150.8" stroke="#333" stroke-width="1"/>
<line x1="416.36" y1="148.6" x2="416.36" y2="150.38" stroke="#333" stroke-width="1"/>
<line x1="423.72" y1="148.6" x2="423.72" y2="150.8" stroke="#333" stroke-width="1"/>
<line x1="431.08" y1="148.6" x2="431.08" y2="150.38" stroke="#333" stroke-width="1"/>
<line x1="438.44" y1="148.6" x2="438.44" y2="150.8" stroke="#333" stroke-width="1"/>
<line x1="445.81" y1="148.6" x2="445.81" y2="150.38" stroke="#333" stroke-width="1"/>
<line x1="453.17" y1="148.6" x2="453.17" y2="150.8" stroke="#333" stroke-width="1"/>
<line x1="460.53" y1="148.6" x2="460.53" y2="150.38" stroke="#333" stroke-width="1"/>
<line x1="467.89" y1="148.6" x2="467.89" y2="150.8" stroke="#333" stroke-width="1"/>
<line x1="475.25" y1="148.6" x2="475.25" y2="150.38" stroke="#333" stroke-width="1"/>
<line x1="482.61" y1="148.6" x2="482.61" y2="150.8" stroke="#333" stroke-width="1"/>
<line x1="489.97" y1="148.6" x2="489.97" y2="150.38" stroke="#333" stroke-width="1"/>
<line x1="497.33" y1="148.6" x2="497.33" y2="150.8" stroke="#333" stroke-width="1"/>
<line x1="504.69" y1="148.6" x2="504.69" y2="150.38" stroke="#333" stroke-width="1"/>
<line x1="512.06" y1="148.6" x2="512.06" y2="150.8" stroke="#333" stroke-width="1"/>
<line x1="519.42" y1="148.6" x2="519.42" y2="150.38" stroke="#333" stroke-width="1"/>
<line x1="526.78" y1="148.6" x2="526.78" y2="150.8" stroke="#333" stroke-width="1"/>
<line x1="534.14" y1="148.6" x2="534.14" y2="150.38" stroke="#333" stroke-width="1"/>
<line x1="541.5" y1="148.6" x2="541.5" y2="150.8" stroke="#333" stroke-width="1"/>
<line x1="47.5" y1="310.8" x2="50.3" y2="310.8" stroke="#333" stroke-width="1"/>
<line x1="48.2" y1="301.12" x2="50.3" y2="301.12" stroke="#333" stroke-width="1"/>
<line x1="47.5" y1="291.43" x2="50.3" y2="291.43" stroke="#333" stroke-width="1"/>
<line x1="48.2" y1="281.75" x2="50.3" y2="281.75" stroke="#333" stroke-width="1"/>
<line x1="47.5" y1="272.07" x2="50.3" y2="272.07" stroke="#333" stroke-width="1"/>
<line x1="48.2" y1="262.38" x2="50.3" y2="262.38" stroke="#333" stroke-width="1"/>
<line x1="47.5" y1="252.7" x2="50.3" y2="252.7" stroke="#333" stroke-width="1"/>
<line x1="48.2" y1="243.02" x2="50.3" y2="243.02" stroke="#333" stroke-width="1"/>
<line x1="47.5" y1="233.33" x2="50.3" y2="233.33" stroke="#333" stroke-width="1"/>
<line x1="48.2" y1="223.65" x2="50.3" y2="223.65" stroke="#333" stroke-width="1"/>
<line x1="47.5" y1="213.97" x2="50.3" y2="213.97" stroke="#333" stroke-width="1"/>
<line x1="48.2" y1="204.28" x2="50.3" y2="204.28" stroke="#333" stroke-width="1"/>
<line x1="47.5" y1="194.6" x2="50.3" y2="194.6" stroke="#333" stroke-width="1"/>
<line x1="50.1" y1="310.6" x2="50.1" y2="312.38" stroke="#333" stroke-width="1"/>
<line x1="59.6" y1="310.6" x2="59.6" y2="312.8" stroke="#333" stroke-width="1"/>
<line x1="69.1" y1="310.6" x2="69.1" y2="312.38" stroke="#333" stroke-width="1"/>
<line x1="78.6" y1="310.6" x2="78.6" y2="312.8" stroke="#333" stroke-width="1"/>
<line x1="88.1" y1="310.6" x2="88.1" y2="312.38" stroke="#333" stroke-width="1"/>
<line x1="97.6" y1="310.6" x2="97.6" y2="312.8" stroke="#333" stroke-width="1"/>
<line x1="107.1" y1="310.6" x2="107.1" y2="312.38" stroke="#333" stroke-width="1"/>
<line x1="116.6" y1="310.6" x2="116.6" y2="312.8" stroke="#333" stroke-width="1"/>
<line x1="126.1" y1="310.6" x2="126.1" y2="312.38" stroke="#333" stroke-width="1"/>
<line x1="135.6" y1="310.6" x2="135.6" y2="312.8" stroke="#333" stroke-width="1"/>
<line x1="145.1" y1="310.6" x2="145.1" y2="312.38" stroke="#333" stroke-width="1"/>
<line x1="154.6" y1="310.6" x2="154.6" y2="312.8" stroke="#333" stroke-width="1"/>
<line x1="164.1" y1="310.6" x2="164.1" y2="312.38" stroke="#333" stroke-width="1"/>
<line x1="173.6" y1="310.6" x2="173.6" y2="312.8" stroke="#333" stroke-width="1"/>
<line x1="227" y1="310.8" x2="229.8" y2="310.8" stroke="#333" stroke-width="1"/>
<line x1="227.7" y1="301.12" x2="229.8" y2="301.12" stroke="#333" stroke-width="1"/>
<line x1="227" y1="291.43" x2="229.8" y2="291.43" stroke="#333" stroke-width="1"/>
<line x1="227.7" y1="281.75" x2="229.8" y2="281.75" stroke="#333" stroke-width="1"/>
<line x1="227" y1="272.07" x2="229.8" y2="272.07" stroke="#333" stroke-width="1"/>
<line x1="227.7" y1="262.38" x2="229.8" y2="262.38" stroke="#333" stroke-width="1"/>
<line x1="227" y1="252.7" x2="229.8" y2="252.7" stroke="#333" stroke-width="1"/>
<line x1="227.7" y1="243.02" x2="229.8" y2="243.02" stroke="#333" stroke-width="1"/>
<line x1="227" y1="233.33" x2="229.8" y2="233.33" stroke="#333" stroke-width="1"/>
<line x1="227.7" y1="223.65" x2="229.8" y2="223.65" stroke="#333" stroke-width="1"/>
<line x1="227" y1="213.97" x2="229.8" y2="213.97" stroke="#333" stroke-width="1"/>
<line x1="227.7" y1="204.28" x2="229.8" y2="204.28" stroke="#333" stroke-width="1"/>
<line x1="227" y1="194.6" x2="229.8" y2="194.6" stroke="#333" stroke-width="1"/>
<line x1="229.6" y1="310.6" x2="229.6" y2="312.38" stroke="#333" stroke-width="1"/>
<line x1="239.1" y1="310.6" x2="239.1" y2="312.8" stroke="#333" stroke-width="1"/>
<line x1="248.6" y1="310.6" x2="248.6" y2="312.38" stroke="#333" stroke-width="1"/>
<line x1="258.1" y1="310.6" x2="258.1" y2="312.8" stroke="#333" stroke-width="1"/>
<line x1="267.6" y1="310.6" x2="267.6" y2="312.38" stroke="#333" stroke-width="1"/>
<line x1="277.1" y1="310.6" x2="277.1" y2="312.8" stroke="#333" stroke-width="1"/>
<line x1="286.6" y1="310.6" x2="286.6" y2="312.38" stroke="#333" stroke-width="1"/>
<line x1="296.1" y1="310.6" x2="296.1" y2="312.8" stroke="#333" stroke-width="1"/>
<line x1="305.6" y1="310.6" x2="305.6" y2="312.38" stroke="#333" stroke-width="1"/>
<line x1="315.1" y1="310.6" x2="315.1" y2="312.8" stroke="#333" stroke-width="1"/>
<line x1="324.6" y1="310.6" x2="324.6" y2="312.38" stroke="#333" stroke-width="1"/>
<line x1="334.1" y1="310.6" x2="334.1" y2="312.8" stroke="#333" stroke-width="1"/>
<line x1="343.6" y1="310.6" x2="343.6" y2="312.38" stroke="#333" stroke-width="1"/>
<line x1="353.1" y1="310.6" x2="353.1" y2="312.8" stroke="#333" stroke-width="1"/>
<line x1="406.5" y1="310.8" x2="409.3" y2="310.8" stroke="#333" stroke-width="1"/>
<line x1="407.2" y1="301.12" x2="409.3" y2="301.12" stroke="#333" stroke-width="1"/>
<line x1="406.5" y1="291.43" x2="409.3" y2="291.43" stroke="#333" stroke-width="1"/>
<line x1="407.2" y1="281.75" x2="409.3" y2="281.75" stroke="#333" stroke-width="1"/>
<line x1="406.5" y1="272.07" x2="409.3" y2="272.07" stroke="#333" stroke-width="1"/>
<line x1="407.2" y1="262.38" x2="409.3" y2="262.38" stroke="#333" stroke-width="1"/>
<line x1="406.5" y1="252.7" x2="409.3" y2="252.7" stroke="#333" stroke-width="1"/>
<line x1="407.2" y1="243.02" x2="409.3" y2="243.02" stroke="#333" stroke-width="1"/>
<line x1="406.5" y1="233.33" x2="409.3" y2="233.33" stroke="#333" stroke-width="1"/>
<line x1="407.2" y1="223.65" x2="409.3" y2="223.65" stroke="#333" stroke-width="1"/>
<line x1="406.5" y1="213.97" x2="409.3" y2="213.97" stroke="#333" stroke-width="1"/>
<line x1="407.2" y1="204.28" x2="409.3" y2="204.28" stroke="#333" stroke-width="1"/>
<line x1="406.5" y1="194.6" x2="409.3" y2="194.6" stroke="#333" stroke-width="1"/>
<line x1="409.1" y1="310.6" x2="409.1" y2="312.38" stroke="#333" stroke-width="1"/>
<line x1="418.6" y1="310.6" x2="418.6" y2="312.8" stroke="#333" stroke-width="1"/>
<line x1="428.1" y1="310.6" x2="428.1" y2="312.38" stroke="#333" stroke-width="1"/>
<line x1="437.6" y1="310.6" x2="437.6" y2="312.8" stroke="#333" stroke-width="1"/>
<line x1="447.1" y1="310.6" x2="447.1" y2="312.38" stroke="#333" stroke-width="1"/>
<line x1="456.6" y1="310.6" x2="456.6" y2="312.8" stroke="#333" stroke-width="1"/>
<line x1="466.1" y1="310.6" x2="466.1" y2="312.38" stroke="#333" stroke-width="1"/>
<line x1="475.6" y1="310.6" x2="475.6" y2="312.8" stroke="#333" stroke-width="1"/>
<line x1="485.1" y1="310.6" x2="485.1" y2="312.38" stroke="#333" stroke-width="1"/>
<line x1="494.6" y1="310.6" x2="494.6" y2="312.8" stroke="#333" stroke-width="1"/>
<line x1="504.1" y1="310.6" x2="504.1" y2="312.38" stroke="#333" stroke-width="1"/>
<line x1="513.6" y1="310.6" x2="513.6" y2="312.8" stroke="#333" stroke-width="1"/>
<line x1="523.1" y1="310.6" x2="523.1" y2="312.38" stroke="#333" stroke-width="1"/>
<line x1="532.6" y1="310.6" x2="532.6" y2="312.8" stroke="#333" stroke-width="1"/>
<text x="50" y="29.4" font-size="11" fill="#222" text-anchor="start" font-weight="normal" stroke="#222" stroke-width="0.12" >No Etching</text>
<text x="229.5" y="28.8" font-size="11" fill="#222" text-anchor="start" font-weight="normal" stroke="#222" stroke-width="0.12" >Dry Etching (SF<tspan font-size="7.8" dy="2.8">6</tspan><tspan dy="-2.8">)</tspan></text>
<text x="409.4" y="29.2" font-size="11" fill="#222" text-anchor="start" font-weight="normal" stroke="#222" stroke-width="0.12" >Wet Etching (TMAH)</text>
</svg>
</body></html>
